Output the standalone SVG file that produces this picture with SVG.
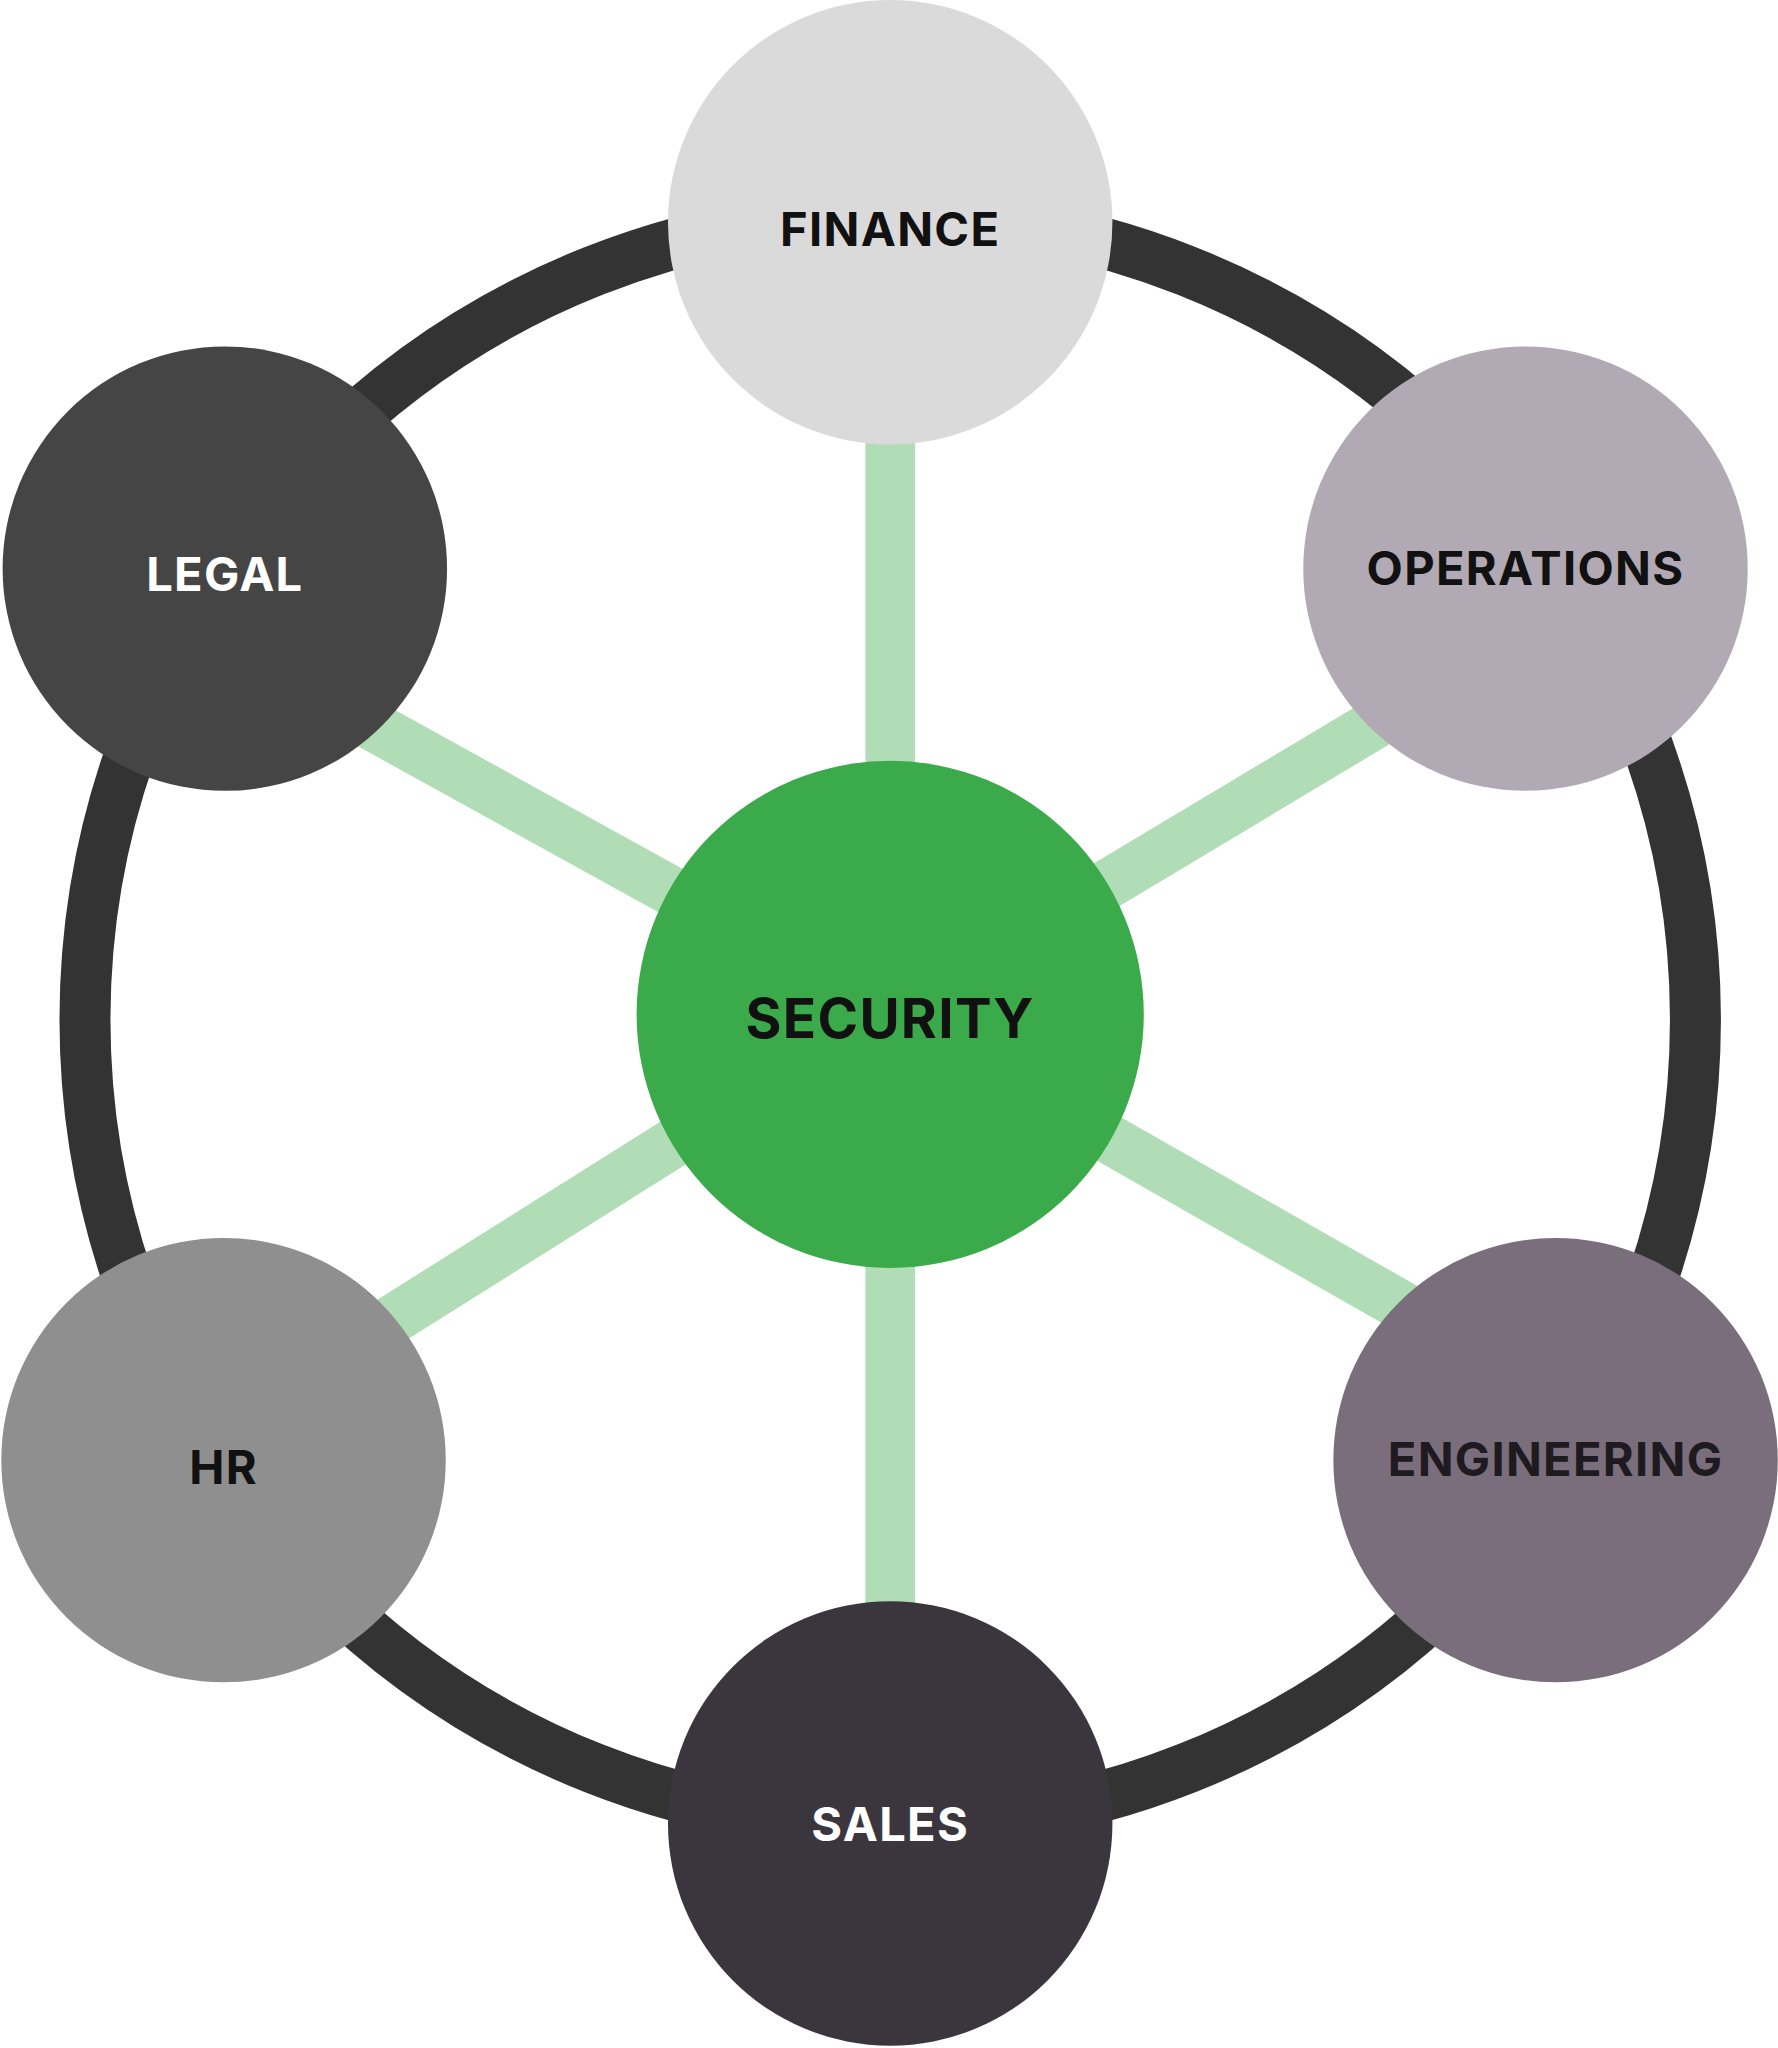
<svg xmlns="http://www.w3.org/2000/svg" width="1778" height="2048" viewBox="0 0 1778 2048">
<style>
.spoke{stroke:#b0ddb5;stroke-width:38;fill:none}
.lbl{font-family:Inter,"Liberation Sans",sans-serif;font-weight:700;font-size:36px;text-anchor:middle;dominant-baseline:central;letter-spacing:1px}
</style>
<rect width="1778" height="2048" fill="#ffffff"/>
<g transform="scale(1.3072)">
<g id="connectors">
<circle cx="681" cy="780" r="616" fill="none" stroke="#333333" stroke-width="39"/>
<line class="spoke" x1="681" y1="776" x2="681" y2="300"/>
<line class="spoke" x1="681" y1="774" x2="230" y2="525"/>
<line class="spoke" x1="681" y1="776" x2="1100" y2="525"/>
<line class="spoke" x1="681" y1="770" x2="250" y2="1041"/>
<line class="spoke" x1="681" y1="776" x2="1120" y2="1026"/>
<line class="spoke" x1="681" y1="776" x2="681" y2="1260"/>
</g>
<g id="finance"><circle cx="681" cy="170" r="170" fill="#dadada"/><text class="lbl" x="681" y="175" fill="#111">FINANCE</text></g>
<g id="legal"><circle cx="172" cy="435" r="170" fill="#454545"/><text class="lbl" x="172" y="439" fill="#fff">LEGAL</text></g>
<g id="operations"><circle cx="1167" cy="435" r="170" fill="#b1a9b3"/><text class="lbl" x="1167" y="434" fill="#111">OPERATIONS</text></g>
<g id="hr"><circle cx="171" cy="1117" r="170" fill="#8f8f8f"/><text class="lbl" x="171" y="1122" fill="#111">HR</text></g>
<g id="engineering"><circle cx="1190" cy="1117" r="170" fill="#7a6e7c"/><text class="lbl" x="1190" y="1116" fill="#1f1a20">ENGINEERING</text></g>
<g id="sales"><circle cx="681" cy="1395" r="170" fill="#3b363d"/><text class="lbl" x="681" y="1395" fill="#fff">SALES</text></g>
<g id="security"><circle cx="681" cy="776" r="194" fill="#3aaa4a"/><text class="lbl" x="681" y="779" fill="#111" style="font-size:42px">SECURITY</text></g>
</g>
</svg>
